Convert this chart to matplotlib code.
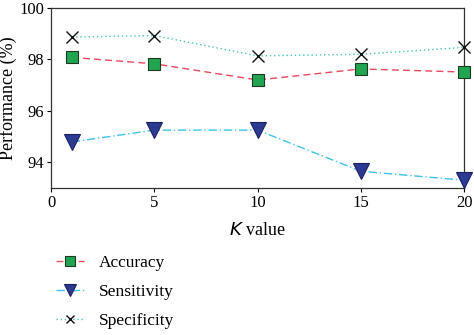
import matplotlib
matplotlib.use('Agg')
import matplotlib.pyplot as plt

plt.rcParams['font.family'] = ['Liberation Serif', 'DejaVu Serif']

k_values = [1, 5, 10, 15, 20]
accuracy = [98.08, 97.83, 97.20, 97.63, 97.51]
sensitivity = [94.79, 95.25, 95.25, 93.65, 93.30]
specificity = [98.87, 98.93, 98.14, 98.20, 98.47]

fig = plt.figure(figsize=(4.74, 3.35), dpi=100)
ax = fig.add_axes([0.108, 0.439, 0.871, 0.537])

ax.plot(k_values, accuracy, color='#e8485e', linestyle=(0, (5, 3)), linewidth=1.0,
        marker='s', markersize=9, markerfacecolor='#22a550', markeredgecolor='#1a3a22',
        markeredgewidth=0.8, label='Accuracy', clip_on=False, zorder=3)
ax.plot(k_values, sensitivity, color='#3cc3e6', linestyle=(0, (6, 2, 1, 2)), linewidth=1.0,
        marker='v', markersize=11, markerfacecolor='#2d3a92', markeredgecolor='#1a2060',
        markeredgewidth=0.8, label='Sensitivity', clip_on=False, zorder=3)
ax.plot(k_values, specificity, color='#45c4b8', linestyle=(0, (1, 2)), linewidth=1.0,
        marker='x', markersize=8, markeredgecolor='#111111', markeredgewidth=1.0,
        label='Specificity', clip_on=False, zorder=3)

ax.set_xlim(0, 20)
ax.set_ylim(93.0, 100)
ax.set_xticks([0, 5, 10, 15, 20])
ax.set_yticks([94, 96, 98, 100])
ax.tick_params(labelsize=12, length=3, width=0.8, direction='out', pad=2)
ax.set_xlabel('$K$ value', fontsize=13, labelpad=8)
ax.set_ylabel('Performance (%)', fontsize=13, labelpad=2)
for s in ax.spines.values():
    s.set_linewidth(0.9)
    s.set_color('#333333')

fig.legend(loc='upper left', bbox_to_anchor=(0.085, 0.285), frameon=False,
           fontsize=12.5, handlelength=1.6, labelspacing=0.72, handletextpad=0.9,
           markerscale=0.8)

fig.savefig('out.png', dpi=100)
